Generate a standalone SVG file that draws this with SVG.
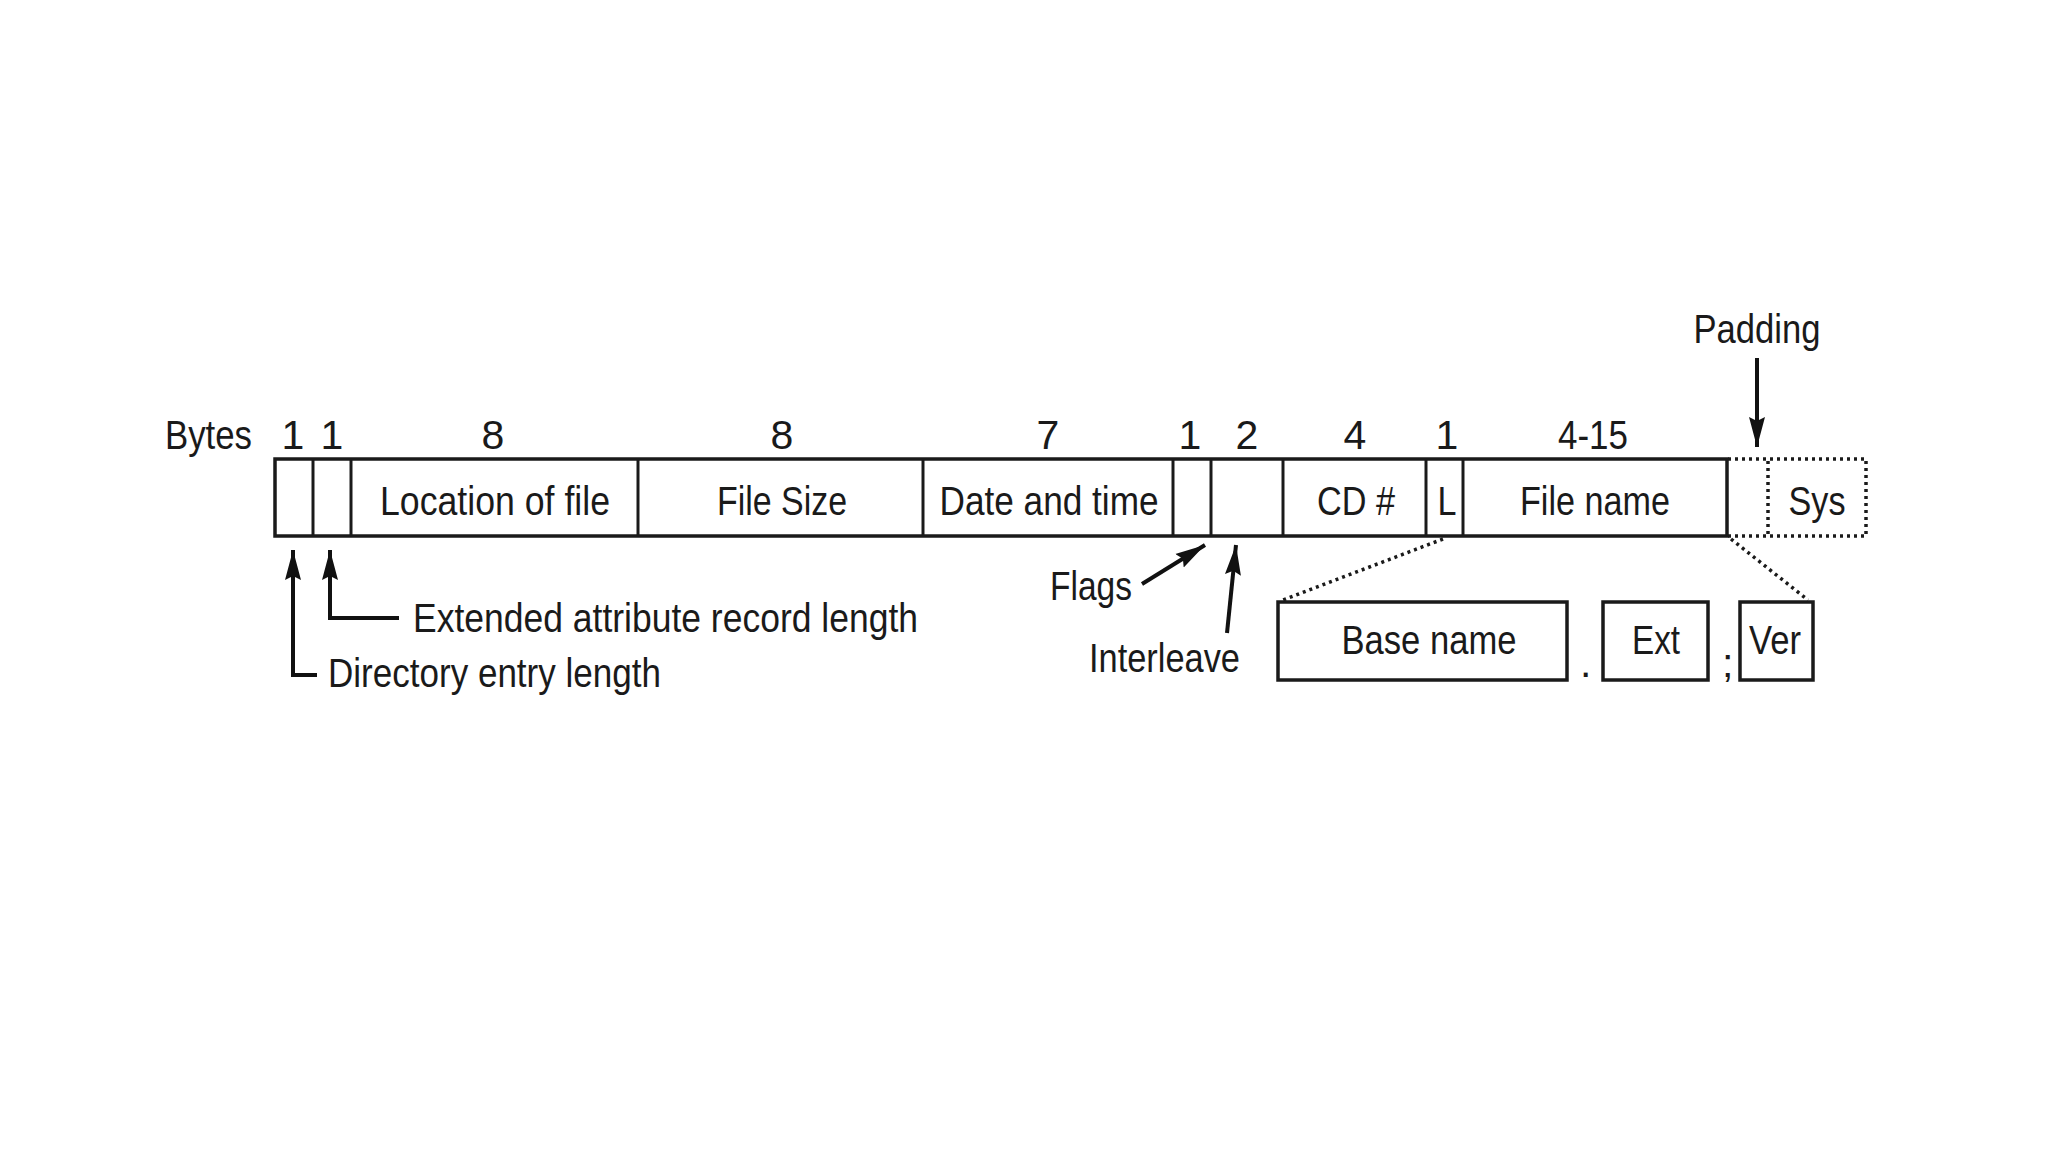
<svg xmlns="http://www.w3.org/2000/svg" width="2048" height="1152" viewBox="0 0 2048 1152">
<style>
text{font-family:"Liberation Sans",Arial,sans-serif;font-size:41px;fill:#1a1a1a}
.m{text-anchor:middle}
.box{fill:#fff;stroke:#1a1a1a;stroke-width:3.5}
.div{stroke:#1a1a1a;stroke-width:3}
.dot{fill:none;stroke:#1a1a1a;stroke-width:3.5;stroke-dasharray:3 4}
.arr{fill:none;stroke:#111;stroke-width:4;marker-end:url(#ah)}
</style>
<defs>
<marker id="ah" markerUnits="userSpaceOnUse" markerWidth="32" markerHeight="18" refX="30" refY="9" orient="auto">
<path d="M0,1 L30,9 L0,17 L4,9 Z" fill="#111"/>
</marker>
</defs>
<rect width="2048" height="1152" fill="#fff"/>

<g id="bytes-row">
<text x="165" y="449" textLength="87" lengthAdjust="spacingAndGlyphs">Bytes</text>
<text class="m" x="293" y="449">1</text>
<text class="m" x="332" y="449">1</text>
<text class="m" x="493" y="449">8</text>
<text class="m" x="782" y="449">8</text>
<text class="m" x="1048" y="449">7</text>
<text class="m" x="1190" y="449">1</text>
<text class="m" x="1247" y="449">2</text>
<text class="m" x="1355" y="449">4</text>
<text class="m" x="1447" y="449">1</text>
<text class="m" x="1593" y="449" textLength="70" lengthAdjust="spacingAndGlyphs">4-15</text>
</g>

<g id="record">
<rect class="box" x="275" y="459" width="1452" height="77"/>
<line class="div" x1="313" y1="459" x2="313" y2="536"/>
<line class="div" x1="351" y1="459" x2="351" y2="536"/>
<line class="div" x1="638" y1="459" x2="638" y2="536"/>
<line class="div" x1="923" y1="459" x2="923" y2="536"/>
<line class="div" x1="1173" y1="459" x2="1173" y2="536"/>
<line class="div" x1="1211" y1="459" x2="1211" y2="536"/>
<line class="div" x1="1283" y1="459" x2="1283" y2="536"/>
<line class="div" x1="1426" y1="459" x2="1426" y2="536"/>
<line class="div" x1="1463" y1="459" x2="1463" y2="536"/>
<text class="m" x="495" y="515" textLength="230" lengthAdjust="spacingAndGlyphs">Location of file</text>
<text class="m" x="782" y="515" textLength="130" lengthAdjust="spacingAndGlyphs">File Size</text>
<text class="m" x="1049" y="515" textLength="219" lengthAdjust="spacingAndGlyphs">Date and time</text>
<text class="m" x="1356" y="515" textLength="78" lengthAdjust="spacingAndGlyphs">CD #</text>
<text class="m" x="1447" y="515" textLength="19" lengthAdjust="spacingAndGlyphs">L</text>
<text class="m" x="1595" y="515" textLength="150" lengthAdjust="spacingAndGlyphs">File name</text>
</g>

<g id="padding-sys">
<path class="dot" d="M1728,459 H1866 V536 H1728"/>
<line class="dot" x1="1768" y1="461" x2="1768" y2="534"/>
<text class="m" x="1817" y="515" textLength="57" lengthAdjust="spacingAndGlyphs">Sys</text>
</g>

<g id="padding-label">
<text class="m" x="1757" y="343" textLength="127" lengthAdjust="spacingAndGlyphs">Padding</text>
</g>

<g id="base-name">
<rect class="box" x="1278" y="602" width="289" height="78"/>
<text class="m" x="1429" y="654" textLength="175" lengthAdjust="spacingAndGlyphs">Base name</text>
</g>
<text x="1580" y="677">.</text>
<g id="ext">
<rect class="box" x="1603" y="602" width="105" height="78"/>
<text class="m" x="1656" y="654" textLength="48" lengthAdjust="spacingAndGlyphs">Ext</text>
</g>
<text x="1722" y="677">;</text>
<g id="ver">
<rect class="box" x="1740" y="602" width="73" height="78"/>
<text class="m" x="1775" y="654" textLength="52" lengthAdjust="spacingAndGlyphs">Ver</text>
</g>

<g id="labels">
<text x="413" y="632" textLength="505" lengthAdjust="spacingAndGlyphs">Extended attribute record length</text>
<text x="328" y="687" textLength="333" lengthAdjust="spacingAndGlyphs">Directory entry length</text>
<text x="1050" y="600" textLength="82" lengthAdjust="spacingAndGlyphs">Flags</text>
<text x="1089" y="672" textLength="151" lengthAdjust="spacingAndGlyphs">Interleave</text>
</g>

<g id="connectors">
<path class="arr" d="M317,675 H293 V550"/>
<path class="arr" d="M399,618 H330 V550"/>
<path class="arr" d="M1142,584 L1205,545"/>
<path class="arr" d="M1227,633 L1236,545"/>
<path class="arr" d="M1757,358 V447"/>
<line class="dot" x1="1443" y1="539" x2="1283" y2="600"/>
<line class="dot" x1="1731" y1="539" x2="1808" y2="600"/>
</g>
</svg>
